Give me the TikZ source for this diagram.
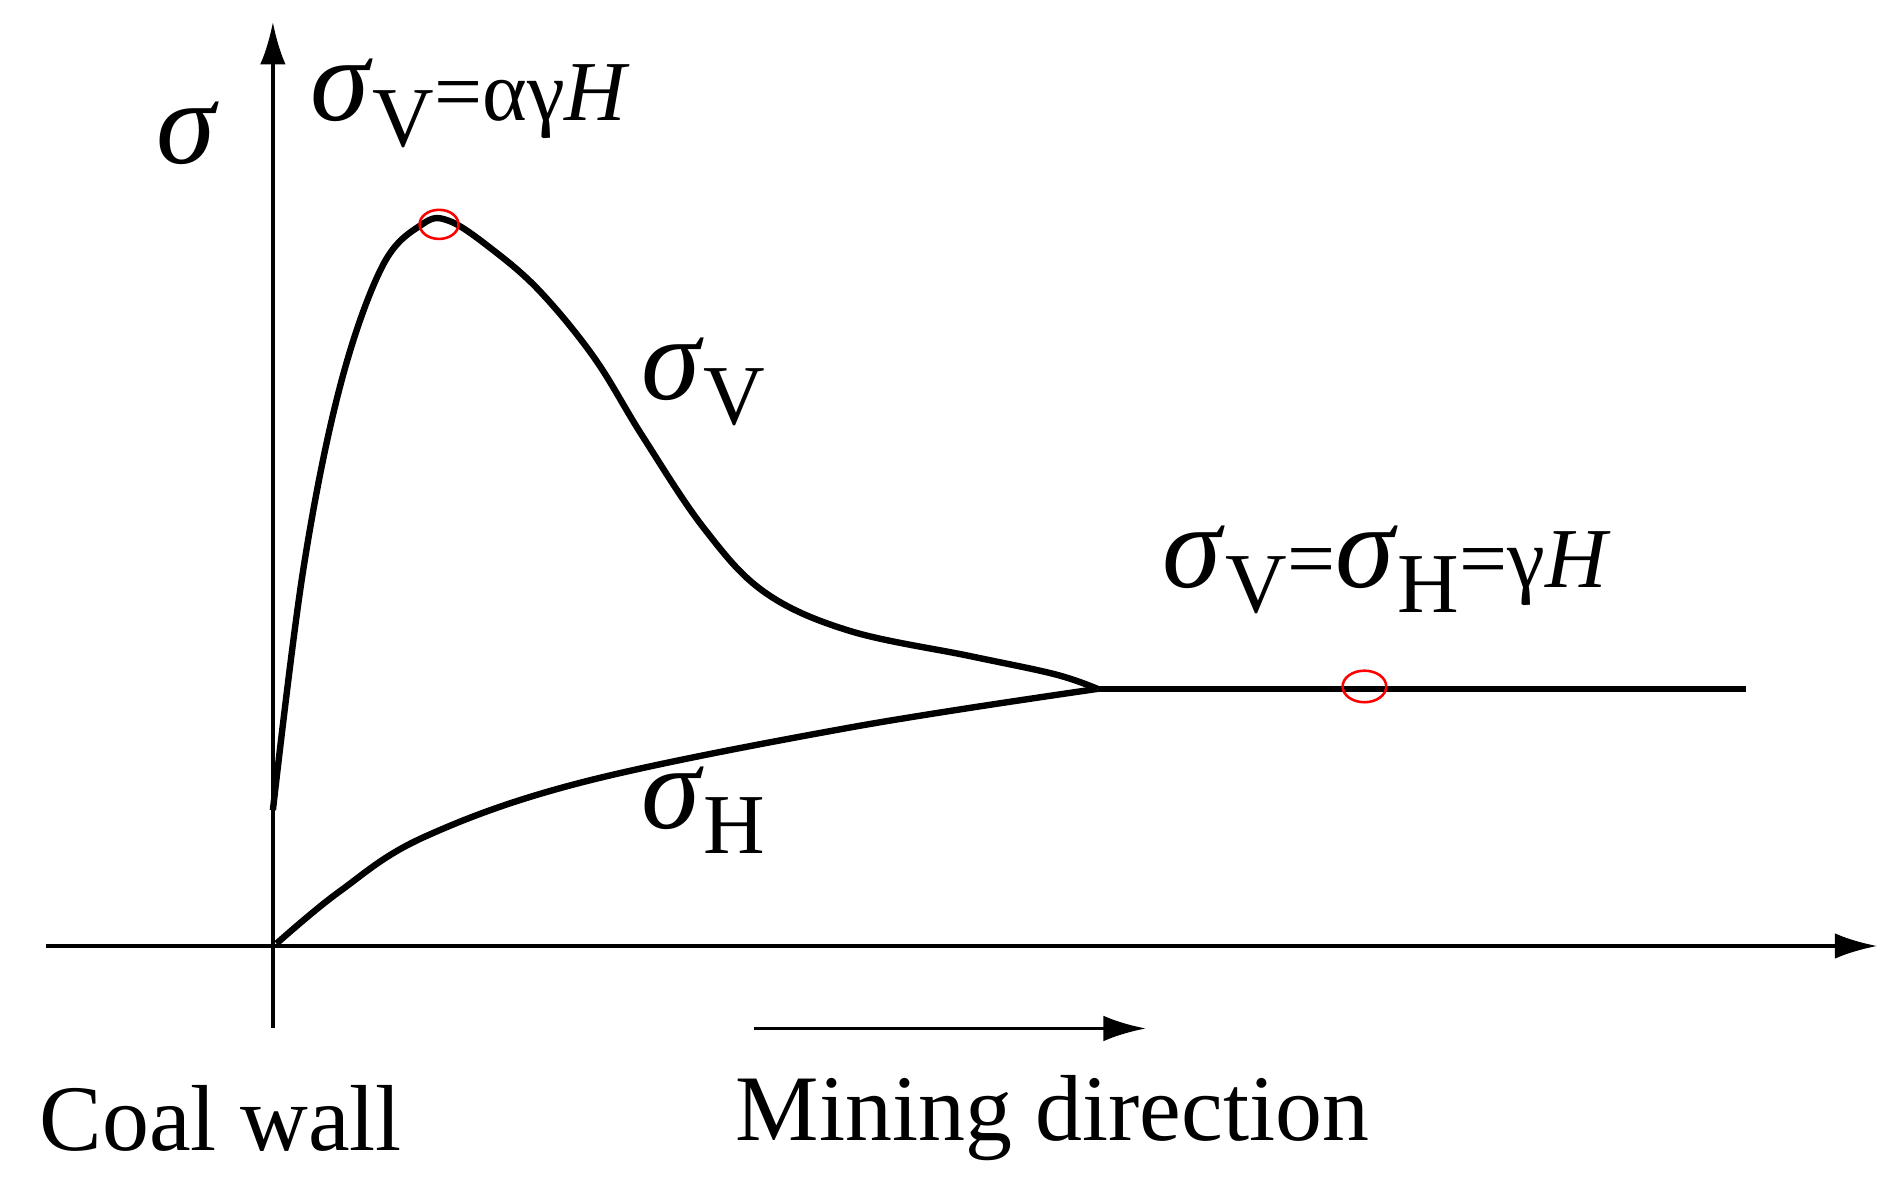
\documentclass[tikz,border=0pt]{standalone}
\usepackage{fontspec}
\setmainfont{Liberation Serif}
\usetikzlibrary{arrows.meta,shapes.geometric}
\begin{document}
\begin{tikzpicture}[x=0.01cm,y=-0.01cm,
  lbl/.style={inner sep=0},
  curve/.style={line width=1.5pt},
  ax/.style={line width=0.9pt,-{Latex[length=10pt,width=6pt]}},
  mk/.style={red,line width=0.6pt}]
\useasboundingbox (0,0) rectangle (1560,988);
\newcommand{\sig}{\fontsize{28}{32}\selectfont\textit{σ}}
\newcommand{\sub}[1]{\fontsize{20}{24}\selectfont\raisebox{-0.3em}{#1}}
\newcommand{\nrm}{\fontsize{20}{24}\selectfont}
\coordinate (yb) at (225,848);
\coordinate (yt) at (225,18);
\coordinate (xl) at (38,780);
\coordinate (xr) at (1548,780);
\draw[ax] (yb) -- (yt);
\draw[ax] (xl) -- (xr);
\coordinate (ma) at (622,848);
\coordinate (mb) at (945,848);
\draw[ax] (ma) -- (mb);
\coordinate (meet) at (905,568);
\coordinate (far) at (1440,568);
\draw[curve] plot[smooth,tension=0.6] coordinates {(225,668) (250,470) (280,320) (315,220) (348,185) (370,182) (405,205) (445,240) (490,295) (530,360) (580,435) (630,488) (700,520) (800,541) (870,556) (905,568)};
\draw[curve] plot[smooth,tension=0.6] coordinates {(228,778) (280,735) (350,690) (480,645) (700,600) (905,568)};
\draw[curve] (meet) -- (far);
\node[mk,draw,ellipse,minimum width=0.32cm,minimum height=0.24cm,inner sep=0] (m1) at (362,185) {};
\node[mk,draw,ellipse,minimum width=0.36cm,minimum height=0.26cm,inner sep=0] (m2) at (1125,566) {};
\node[lbl] (s) at (155,110) {\sig};
\node[lbl,anchor=west] (l1) at (255,85) {\sig\sub{V}\nrm =αγ\textit{H}};
\node[lbl,anchor=west] (l2) at (528,315) {\sig\sub{V}};
\node[lbl,anchor=west] (l3) at (958,470) {\sig\sub{V}\nrm =\sig\sub{H}\nrm =γ\textit{H}};
\node[lbl,anchor=west] (l4) at (528,668) {\sig\sub{H}};
\node[lbl,anchor=west,font=\fontsize{22}{26}\selectfont] (cw) at (32,922) {Coal wall};
\node[lbl,anchor=west,font=\fontsize{22}{26}\selectfont] (md) at (606,922) {Mining direction};
\end{tikzpicture}
\end{document}
